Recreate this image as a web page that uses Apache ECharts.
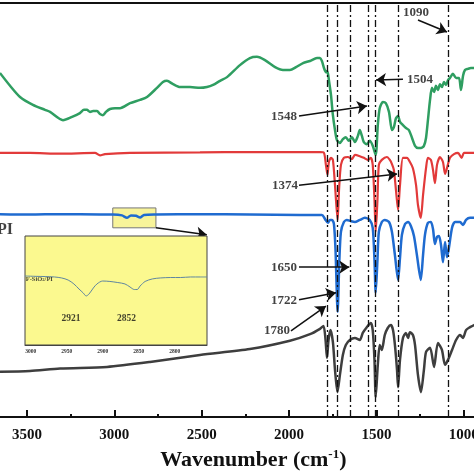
<!DOCTYPE html>
<html>
<head>
<meta charset="utf-8">
<script src="https://cdn.jsdelivr.net/npm/echarts@6.0.0/dist/echarts.min.js"></script>
<style>
html,body{margin:0;padding:0;background:#fff}
#chart{width:474px;height:474px}
</style>
</head>
<body>
<div id="chart"></div>
<script>
// FTIR spectra, stacked with offsets (wavenumber, offset transmittance a.u.)
const peakLines = [1780, 1722, 1650, 1548, 1504, 1374, 1090]

const greenData = [
  [3655,83.1],[3597,80.0],[3540,77.3],[3466,75.4],[3397,74.2],[3368,73.7],[3294,71.7],[3242,72.5],
  [3197,73.4],[3174,74.2],[3157,74.2],[3139,73.7],[3122,73.9],[3099,73.9],[3082,73.2],[3065,72.9],
  [3048,73.7],[3025,74.4],[2996,74.6],[2968,74.6],[2910,75.8],[2853,76.6],[2813,77.3],[2756,79.5],
  [2722,80.9],[2699,81.2],[2664,80.4],[2624,79.7],[2567,79.7],[2510,79.5],[2470,79.7],[2435,80.2],
  [2395,81.2],[2355,82.1],[2281,85.0],[2224,86.7],[2184,87.0],[2138,86.2],[2080,84.5],[2035,83.8],
  [1995,83.8],[1960,84.5],[1920,85.5],[1880,86.0],[1840,86.7],[1823,86.7],[1812,86.0],[1800,84.3],
  [1789,83.3],[1783,83.6],[1777,82.9],[1772,81.4],[1760,77.8],[1749,72.9],[1737,69.3],[1726,66.9],
  [1709,66.2],[1692,67.1],[1675,67.6],[1658,66.7],[1640,67.6],[1623,66.4],[1606,67.9],[1595,69.3],
  [1583,67.9],[1572,66.4],[1555,65.9],[1538,66.7],[1521,65.5],[1504,63.3],[1492,70.5],[1481,74.6],
  [1463,76.1],[1446,75.8],[1428,73.7],[1411,69.3],[1400,70.0],[1388,72.2],[1376,72.7],[1365,71.3],
  [1348,70.5],[1331,69.8],[1314,69.3],[1296,67.4],[1279,65.5],[1262,65.0],[1245,65.0],[1228,65.5],
  [1216,67.4],[1205,71.7],[1193,76.6],[1182,79.5],[1170,78.5],[1159,80.0],[1148,79.0],[1136,80.4],
  [1125,79.7],[1113,80.9],[1102,80.2],[1090,81.4],[1079,81.9],[1062,82.9],[1044,81.9],[1027,81.9],
  [1016,79.0],[1004,82.4],[993,83.8],[976,84.1],[959,84.3],[941,84.3],[920,84.3]
]

const redData = [
  [3655,63.8],[3483,63.8],[3311,63.6],[3111,63.8],[3082,63.2],[3054,63.5],[2910,63.8],[2510,63.9],
  [2224,64.0],[1937,64.0],[1823,64.0],[1800,63.8],[1789,60.9],[1780,58.5],[1772,61.6],[1760,62.6],
  [1749,62.1],[1737,56.0],[1722,47.6],[1714,54.8],[1703,60.9],[1686,62.6],[1663,62.8],[1640,62.3],
  [1623,63.3],[1595,63.0],[1572,62.6],[1549,62.1],[1532,62.6],[1521,60.9],[1511,52.4],[1504,44.7],
  [1494,52.4],[1486,60.9],[1469,62.1],[1440,62.8],[1423,62.1],[1411,61.1],[1400,59.7],[1388,54.8],
  [1376,50.0],[1365,56.0],[1348,62.6],[1325,62.6],[1308,61.6],[1291,60.1],[1273,56.0],[1262,51.2],
  [1246,48.1],[1233,53.6],[1216,60.1],[1205,62.6],[1188,62.1],[1176,59.7],[1165,56.5],[1153,60.9],
  [1136,62.8],[1119,61.6],[1107,58.7],[1096,60.1],[1079,62.6],[1056,63.5],[1033,63.8],[1012,62.6],
  [998,63.8],[941,63.8],[920,63.8]
]

const blueData = [
  [3655,49.0],[3483,48.9],[3311,49.0],[3082,48.9],[3008,48.9],[2956,48.7],[2928,48.1],[2905,48.7],
  [2876,48.6],[2853,48.2],[2830,48.8],[2762,48.9],[2510,49.0],[2224,48.9],[1937,48.8],[1812,48.8],
  [1794,47.8],[1777,46.9],[1766,47.6],[1754,47.6],[1743,46.6],[1734,40.3],[1722,25.4],[1712,37.9],
  [1703,44.7],[1686,47.1],[1669,47.6],[1646,47.3],[1623,47.1],[1595,47.6],[1566,48.1],[1538,47.6],
  [1521,45.7],[1511,37.9],[1504,30.0],[1494,37.9],[1486,44.7],[1469,47.1],[1452,47.6],[1428,47.1],
  [1411,44.7],[1394,39.1],[1376,33.1],[1365,38.4],[1354,44.0],[1336,46.6],[1319,47.1],[1302,46.1],
  [1285,43.7],[1268,39.1],[1246,33.1],[1233,39.1],[1222,44.0],[1205,46.9],[1188,47.1],[1176,45.4],
  [1165,41.8],[1153,43.5],[1142,43.7],[1130,41.5],[1119,37.4],[1107,42.3],[1096,38.6],[1085,40.8],
  [1067,45.7],[1050,47.1],[1021,47.1],[1004,46.4],[987,47.6],[964,48.1],[941,48.1],[920,48.1]
]

const grayData = [
  [3655,10.9],[3483,11.1],[3311,11.7],[3042,12.1],[2796,13.3],[2510,15.0],[2224,16.4],[1995,18.4],
  [1880,20.0],[1823,21.3],[1803,22.0],[1791,18.6],[1783,14.3],[1774,18.6],[1763,21.0],[1749,18.1],
  [1737,11.4],[1723,6.0],[1709,10.1],[1692,15.0],[1675,17.4],[1652,18.6],[1623,19.1],[1595,18.6],
  [1578,20.3],[1555,21.7],[1532,22.7],[1521,21.0],[1511,13.8],[1504,4.8],[1492,12.6],[1481,17.4],
  [1469,16.2],[1452,19.8],[1435,21.5],[1417,22.2],[1405,21.0],[1394,17.4],[1382,11.4],[1376,7.2],
  [1365,13.8],[1348,19.1],[1331,20.3],[1319,19.1],[1308,20.5],[1291,19.8],[1279,17.4],[1262,10.1],
  [1245,6.0],[1228,11.4],[1216,15.7],[1193,16.7],[1170,12.1],[1148,17.9],[1125,16.2],[1107,12.6],
  [1090,13.8],[1067,16.2],[1044,18.6],[1021,19.8],[1004,19.1],[987,21.0],[964,21.7],[941,22.2],[920,22.4]
]

// inset: zoom of the F-SiO2/PI curve around the C-H stretch
const insetData = [
  [3008,63.3],[2994,63.0],[2980,62.8],[2967,62.4],[2957,61.5],[2948,59.6],[2940,56.0],[2933,51.4],
  [2927,47.7],[2923,45.0],[2919,46.8],[2913,52.3],[2908,56.0],[2900,58.7],[2890,58.3],[2879,57.3],
  [2869,56.0],[2862,53.2],[2856,50.9],[2852,50.9],[2848,54.1],[2841,58.3],[2831,60.6],[2820,61.5],
  [2806,61.9],[2792,61.9],[2778,62.4],[2764,62.4],[2755,62.4]
]
const insetTicks = [2800, 2850, 2900, 2950, 3000]

const peakLabels = [
  [1273,97.6,'1090'],[1250,81.6,'1504'],[2029,72.5,'1548'],[2023,56.0,'1374'],
  [2029,36.0,'1650'],[2029,28.0,'1722'],[2069,20.8,'1780']
]
const peakArrows = [
  [[1262,95.9],[1096,93.0]],
  [[1348,81.6],[1502,81.4]],
  [[1943,72.7],[1554,75.1]],
  [[1943,56.0],[1382,58.7]],
  [[1943,36.2],[1655,36.2]],
  [[1943,28.3],[1731,30.0]],
  [[1989,20.8],[1789,26.8]]
]
const insetLabels = [[2944,23.9,'2921'],[2867,23.9,'2852']]
const insetArrows = [
  [[2939,32.1],[2926,43.1]],
  [[2869,31.5],[2855,45.9]]
]
const zoomBox = [[3009,50.5],[2762,45.7]]
const zoomLink = [[2762,45.7],[2471,44.0]]

const FONT = '"Liberation Serif","Times New Roman",serif'

const arrowLines = arr => arr.map(a => [{coord:a[0]}, {coord:a[1]}])

const chart = echarts.init(document.getElementById('chart'))
chart.setOption({
  animation: false,
  backgroundColor: '#fff',
  grid: [
    {left:-60.35, right:-77.1, top:3, bottom:57, containLabel:false, outerBoundsMode:'none',
     show:true, borderColor:'#111', borderWidth:2, backgroundColor:'transparent'},
    {left:25, top:236, width:182, height:109, containLabel:false, outerBoundsMode:'none',
     show:true, borderColor:'#444', borderWidth:1, backgroundColor:'#fbf98f', z:10}
  ],
  xAxis: [
    {
      type:'value', gridIndex:0, inverse:true, min:500, max:4000, interval:500,
      axisLine:{lineStyle:{color:'#111', width:2}},
      axisTick:{inside:true, length:7, lineStyle:{color:'#111', width:2}},
      minorTick:{show:true, splitNumber:2, length:3, lineStyle:{color:'#111', width:2}},
      splitLine:{show:false},
      axisLabel:{formatter:v => String(v), fontFamily:FONT, fontWeight:'bold', fontSize:15, color:'#111', margin:11},
      name:'{a|Wavenumber (cm}{s|-1}{a|)}', nameLocation:'middle', nameGap:30,
      nameTextStyle:{padding:[0,0,0,16], rich:{
        a:{fontFamily:FONT, fontWeight:'bold', fontSize:22, color:'#111', lineHeight:24},
        s:{fontFamily:FONT, fontWeight:'bold', fontSize:13, color:'#111', verticalAlign:'top', lineHeight:24}
      }}
    },
    {
      type:'value', gridIndex:1, inverse:true, min:2755, max:3008,
      axisLine:{lineStyle:{color:'#444', width:1}},
      axisTick:{inside:true, length:2, customValues:insetTicks, lineStyle:{color:'#444'}},
      splitLine:{show:false},
      axisLabel:{customValues:insetTicks, formatter:v => String(v), fontFamily:FONT, fontWeight:'bold', fontSize:5.5, color:'#333', margin:4}
    }
  ],
  yAxis: [
    {type:'value', gridIndex:0, min:0, max:100, show:false, splitLine:{show:false}},
    {type:'value', gridIndex:1, min:0, max:100, show:false, splitLine:{show:false}}
  ],
  series: [
    {type:'line', name:'gray', data:grayData, showSymbol:false, smooth:0.25, z:3,
     lineStyle:{color:'#3e3e3e', width:2.5},
     markLine:{silent:true, symbol:['none','arrow'], symbolSize:10, animation:false,
       label:{show:false}, lineStyle:{color:'#111', width:1.5, type:'solid'},
       data: arrowLines(peakArrows).concat([[{coord:zoomLink[0]}, {coord:zoomLink[1]}]])}},
    {type:'line', name:'blue', data:blueData, showSymbol:false, smooth:0.25, z:3,
     lineStyle:{color:'#1f6bd0', width:2.5},
     markArea:{silent:true, itemStyle:{color:'rgba(245,240,120,0.75)', borderColor:'#777', borderWidth:1},
       data:[[{coord:zoomBox[0]}, {coord:zoomBox[1]}]]}},
    {type:'line', name:'red', data:redData, showSymbol:false, smooth:0.25, z:3,
     lineStyle:{color:'#e23a3a', width:2.2}},
    {type:'line', name:'green', data:greenData, showSymbol:false, smooth:0.25, z:3,
     lineStyle:{color:'#2f9e61', width:2.5}},
    {type:'scatter', name:'labels', data:peakLabels, symbolSize:0, z:6,
     label:{show:true, position:'inside', formatter:p => p.data[2],
       fontFamily:FONT, fontWeight:'bold', fontSize:13, color:'#111'},
     markLine:{silent:true, symbol:'none', animation:false, label:{show:false},
       lineStyle:{color:'#111', width:1.3, type:[7,3,2,3]},
       data: peakLines.map(v => ({xAxis:v}))}},
    {type:'scatter', name:'sample', data:[[3580,45.2,'{a|F-SiO}{b|2}{a|/PI}']], symbolSize:0, z:6,
     label:{show:true, position:'inside', align:'right', formatter:p => p.data[2],
       rich:{a:{fontFamily:FONT, fontWeight:'bold', fontSize:16, color:'#111'},
             b:{fontFamily:FONT, fontWeight:'bold', fontSize:10, color:'#111', verticalAlign:'bottom'}}}},
    // inset
    {type:'line', name:'inset', xAxisIndex:1, yAxisIndex:1, data:insetData, showSymbol:false, smooth:0.3, z:12,
     lineStyle:{color:'#5f86a0', width:1},
     markLine:{silent:true, symbol:['none','arrow'], symbolSize:6, animation:false,
       label:{show:false}, lineStyle:{color:'#111', width:1, type:'solid'},
       data: arrowLines(insetArrows)}},
    {type:'scatter', name:'insetLabels', xAxisIndex:1, yAxisIndex:1, data:insetLabels, symbolSize:0, z:12,
     label:{show:true, position:'inside', formatter:p => p.data[2],
       fontFamily:FONT, fontWeight:'bold', fontSize:9.5, color:'#111'}},
    {type:'scatter', name:'insetName', xAxisIndex:1, yAxisIndex:1, data:[[3007,60.6,'{a|F-SiO}{b|2}{a|/PI}']], symbolSize:0, z:12,
     label:{show:true, position:'inside', align:'left', formatter:p => p.data[2],
       rich:{a:{fontFamily:FONT, fontWeight:'bold', fontSize:6.5, color:'#222'},
             b:{fontFamily:FONT, fontWeight:'bold', fontSize:4.5, color:'#222', verticalAlign:'bottom'}}}}
  ]
})
</script>
</body>
</html>
